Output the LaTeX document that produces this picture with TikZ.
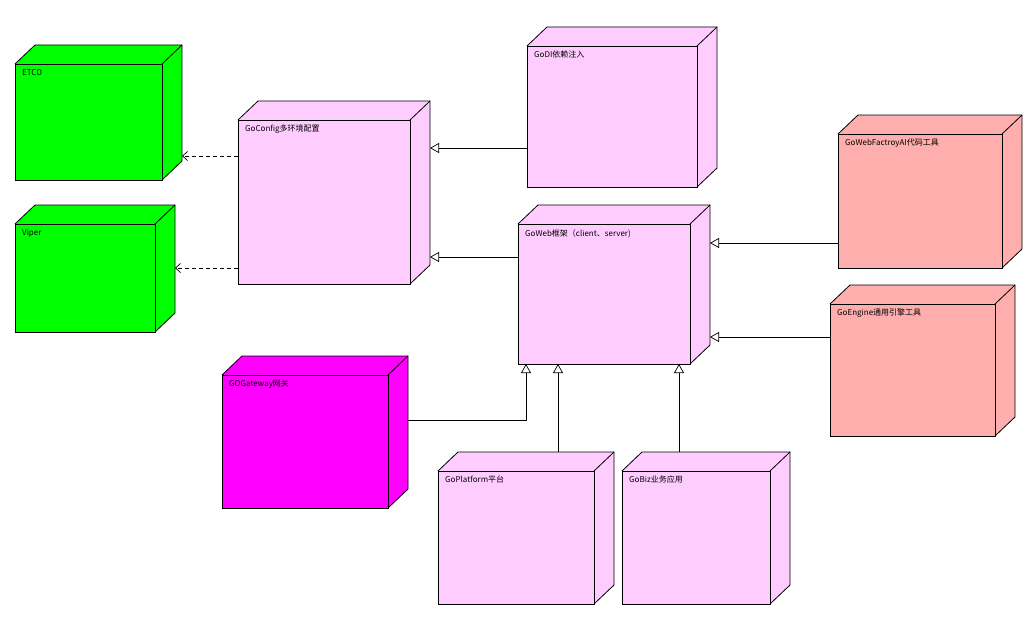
\documentclass[tikz,border=0pt]{standalone}
\usepackage{fontspec}
\setmainfont{Noto Sans CJK SC}
\usetikzlibrary{arrows.meta,calc}
\definecolor{cgreen}{HTML}{00FF00}
\definecolor{cpink}{HTML}{FFCCFF}
\definecolor{csalmon}{HTML}{FFAEAE}
\definecolor{cmag}{HTML}{FF00FF}
\tikzset{
 face/.style={draw=black,line width=0.8pt,inner sep=0pt,outer sep=0pt},
 lbl/.style={anchor=north west,font=\fontsize{8}{9}\selectfont,inner sep=0pt},
 gen/.style={line width=0.7pt,-{Triangle[open,length=9pt,width=10pt]}},
 dep/.style={line width=0.7pt,dashed,dash pattern=on 4pt off 3pt,-{Straight Barb[length=5pt,width=9pt]}},
}
\newcommand\cube[7]{%
 \fill[#6] (#2,#3) -- (#2+20,#3-19) -- (#4+20,#3-19) -- (#4+20,#5-19) -- (#4,#5) -- cycle;
 \draw[line width=0.8pt] (#2,#3) -- (#2+20,#3-19) -- (#4+20,#3-19) -- (#4+20,#5-19) -- (#4,#5);
 \draw[line width=0.8pt] (#4,#3) -- (#4+20,#3-19);
 \node[face,fill=#6,anchor=north west,minimum width={(#4-#2)*1pt},minimum height={(#5-#3)*1pt}] (#1) at (#2,#3) {};
 \node[lbl] (#1t) at (#2+7,#3+5) {#7};
}
\begin{document}
\begin{tikzpicture}[x=1pt,y=-1pt]
\fill[white] (0,0) rectangle (1025,618);
\useasboundingbox (0,0) rectangle (1025,618);
\cube{etcd}{15}{64}{162}{180}{cgreen}{ETCD}
\cube{viper}{15}{224}{155}{332}{cgreen}{Viper}
\cube{goconfig}{238}{120}{410}{284}{cpink}{GoConfig多环境配置}
\cube{godi}{527}{46}{697}{187}{cpink}{GoDI依赖注入}
\cube{goweb}{518}{224}{690}{364}{cpink}{GoWeb框架（client、server)}
\cube{gowf}{838}{134}{1002}{268}{csalmon}{GoWebFactroyAI代码工具}
\cube{goengine}{830}{304}{995}{436}{csalmon}{GoEngine通用引擎工具}
\cube{gogw}{222}{375}{388}{508}{cmag}{GOGateway网关}
\cube{goplat}{438}{471}{594}{604}{cpink}{GoPlatform平台}
\cube{gobiz}{622}{471}{770}{604}{cpink}{GoBiz业务应用}
\draw[dep] ($(goconfig.north west)+(0,36)$) -- ($(etcd.north east)+(20,92)$);
\draw[dep] ($(goconfig.north west)+(0,148)$) -- ($(viper.north east)+(20,44)$);
\draw[gen] ($(godi.north west)+(0,102)$) -- ($(goconfig.north east)+(20,28)$);
\draw[gen] ($(goweb.north west)+(0,33)$) -- ($(goconfig.north east)+(20,137)$);
\draw[gen] ($(gowf.north west)+(0,109)$) -- ($(goweb.north east)+(20,19)$);
\draw[gen] ($(goengine.north west)+(0,33)$) -- ($(goweb.north east)+(20,113)$);
\draw[gen] ($(gogw.north east)+(20,45)$) -| ($(goweb.south west)+(8,0)$);
\draw[gen] ($(goplat.north west)+(120,-19)$) -- ($(goweb.south west)+(40,0)$);
\draw[gen] ($(gobiz.north west)+(57,-19)$) -- ($(goweb.south west)+(161,0)$);
\end{tikzpicture}
\end{document}
